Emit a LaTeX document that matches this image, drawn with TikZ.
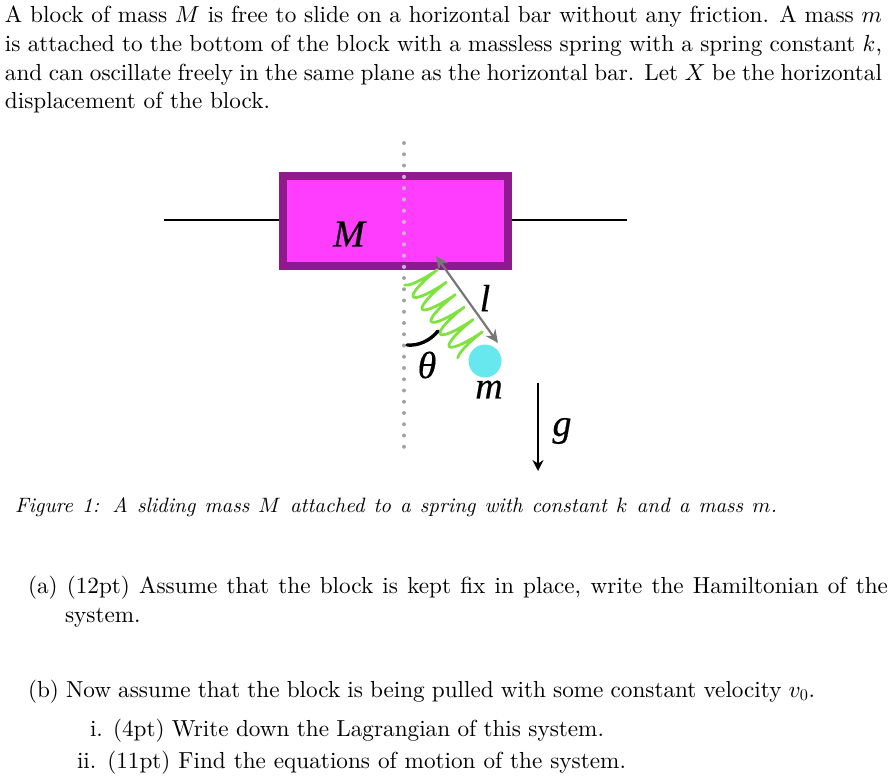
\documentclass[tikz,border=0pt]{standalone}
\usepackage{fontspec}
\usetikzlibrary{arrows.meta}
\setmainfont{lmroman10-regular.otf}[ItalicFont=lmroman10-italic.otf]
\DeclareFontShape{OML}{cmm}{m}{it}{<-> cmmi10}{}
\DeclareFontShape{OT1}{cmr}{m}{n}{<-> cmr10}{}
\newfontfamily\figfont[Ligatures=TeX,ItalicFeatures={FakeBold=0.4}]{Liberation Serif}
\definecolor{blockfill}{HTML}{FF3DFF}
\definecolor{blockedge}{HTML}{8E1A8E}
\definecolor{springgreen}{HTML}{7FE23F}
\definecolor{ballcyan}{HTML}{66E8EE}
\definecolor{dotgray}{HTML}{A3A3A3}
\definecolor{dotlight}{HTML}{D8A8D8}
\definecolor{armgray}{HTML}{777777}
\tikzset{
  body/.style={anchor=base west,inner sep=0pt,outer sep=0pt,font=\fontsize{23.2}{28}\selectfont},
  capt/.style={anchor=base west,inner sep=0pt,outer sep=0pt,font=\fontsize{20.8}{25}\selectfont\itshape},
  figlabel/.style={inner sep=0pt,outer sep=0pt,font=\fontsize{38}{42}\selectfont\figfont\itshape},
  barline/.style={line width=2pt,black},
  dots/.style={line width=4pt,line cap=round,dotgray,dash pattern=on 0pt off 11.25pt},
  blockbox/.style={draw=blockedge,fill=blockfill,line width=8pt,minimum width=225pt,minimum height=90pt,inner sep=0pt},
  ball/.style={circle,fill=ballcyan,minimum size=33pt,inner sep=0pt},
  coilspring/.style={springgreen,line width=2.8pt,line join=round}
}
\begin{document}
\begin{tikzpicture}[x=1pt,y=-1pt]
\useasboundingbox (0,0) rectangle (891,780);
% text
\node[body] (t1) at (5,22) {\makebox[877pt][s]{A block of mass $M$ is free to slide on a horizontal bar without any friction. A mass $m$}};
\node[body] (t2) at (5,51) {\makebox[877pt][s]{is attached to the bottom of the block with a massless spring with a spring constant $k$,}};
\node[body] (t3) at (5,80) {\makebox[877pt][s]{and can oscillate freely in the same plane as the horizontal bar. Let $X$ be the horizontal}};
\node[body] (t4) at (5,108) {displacement of the block.};
\node[capt] (cap) at (15,512) {\makebox[762pt][s]{Figure 1: A sliding mass $M$ attached to a spring with constant $k$ and a mass $m$.}};
\node[body] (a1) at (28,593) {\makebox[860pt][s]{(a) (12pt) Assume that the block is kept fix in place, write the Hamiltonian of the}};
\node[body] (a2) at (65,622) {system.};
\node[body] (b1) at (28,697) {\makebox[787pt][s]{(b) Now assume that the block is being pulled with some constant velocity $v_0$.}};
\node[body] (b2) at (90,736) {\makebox[514pt][s]{i. (4pt) Write down the Lagrangian of this system.}};
\node[body] (b3) at (77,768) {\makebox[549pt][s]{ii. (11pt) Find the equations of motion of the system.}};
% bar and block
\coordinate (barL) at (164,220);
\coordinate (barR) at (627,220);
\node[blockbox] (block) at (395.5,221) {};
\draw[barline] (barL) -- (block.west |- barL);
\draw[barline] (block.east |- barR) -- (barR);
% vertical dotted line
\coordinate (dotT) at (404,143);
\coordinate (dotB) at (404,447);
\coordinate (dotInT) at (404,177);
\coordinate (dotInB) at (404,268);
\draw[dots] (dotT) -- (dotB);
\draw[dots,dotlight] (dotInT) -- (dotInB);
% spring, ball
\draw[coilspring,domain=0:1,samples=400,variable=\t]
  plot ({418.5+54*\t+0.81*17.5*sin(2160*\t-90)+0.59*2.5*cos(2160*\t-90)},
        {274+74.5*\t-0.59*17.5*sin(2160*\t-90)+0.81*2.5*cos(2160*\t-90)});
\node[ball] (mass) at (485,361) {};
% length arrow
\coordinate (armT) at (436,256);
\coordinate (armB) at (498,343);
\draw[armgray,line width=2.2pt,{Stealth[length=13pt,width=12pt]}-{Stealth[length=13pt,width=12pt]}] (armT) -- (armB);
% angle mark
\coordinate (arcL) at (407,345);
\coordinate (arcR) at (438,331);
\fill[black] (arcL) .. controls (420,347) and (431,342) .. (arcR) .. controls (433,339) and (420,344) .. (arcL) -- cycle;
\draw[black,line width=3.4pt,line cap=round] (arcL) .. controls (418,346) and (430,341) .. (arcR);
% gravity arrow
\coordinate (gT) at (538,383);
\coordinate (gB) at (538,471);
\draw[black,line width=2pt,-{Stealth[length=11pt,width=11pt]}] (gT) -- (gB);
% labels
\node[figlabel] (lM) at (349,234) {M};
\node[figlabel] (ll) at (485,298) {l};
\node[figlabel] (lth) at (427,365) {θ};
\node[figlabel] (lm) at (489,389.5) {m};
\node[figlabel] (lg) at (562,431) {g};
\end{tikzpicture}
\end{document}
